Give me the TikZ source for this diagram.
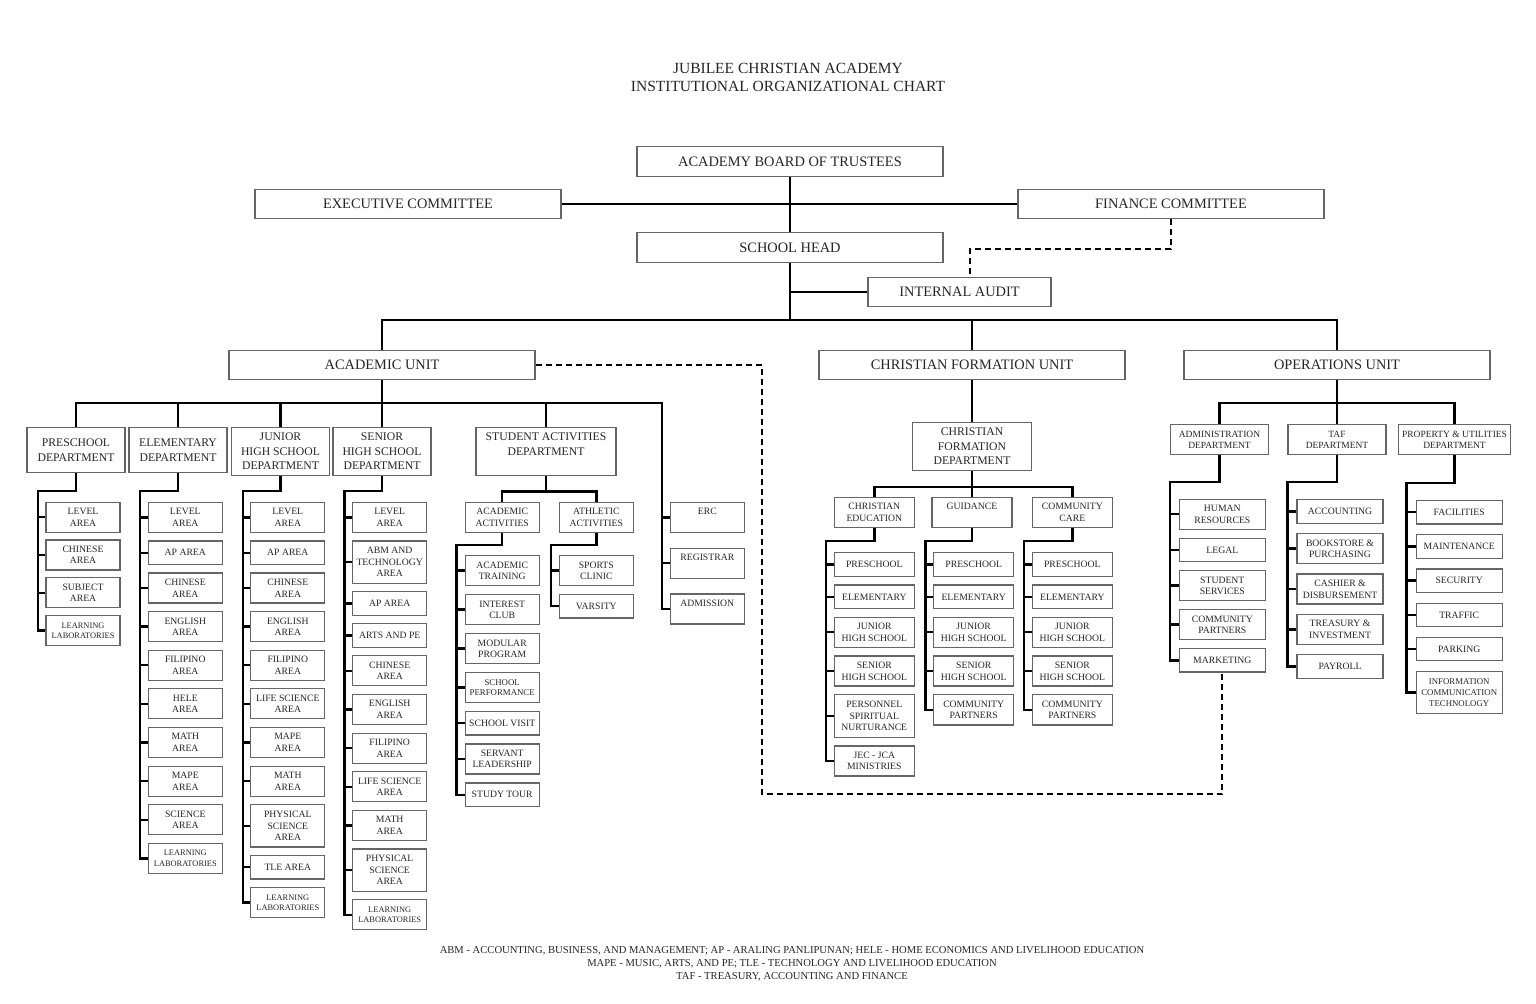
\documentclass[tikz,border=0pt]{standalone}
\usepackage{fontspec}
\setmainfont{Liberation Serif}
\usetikzlibrary{positioning}

\begin{document}
\begin{tikzpicture}[x=0.5pt, y=-0.5pt,
  box/.style={draw=black!60, line width=0.6pt, fill=white, text=black!85, align=center, inner sep=1pt},
  topbox/.style={box, minimum width=153pt, minimum height=14.7pt, font=\fontsize{7.2}{8.6}\selectfont},
  dept/.style={box, minimum width=49pt, font=\fontsize{5.85}{7.25}\selectfont},
  opsdept/.style={minimum height=15.2pt, font=\fontsize{4.75}{5.5}\selectfont},
  leaf/.style={box, minimum width=37pt, font=\fontsize{4.85}{5.75}\selectfont},
  ht1/.style={minimum height=11.7pt},
  ht2/.style={minimum height=15pt},
  ht3/.style={minimum height=21.1pt},
  lab/.style={ht2, font=\fontsize{4.2}{5.2}\selectfont},
  perf/.style={ht2, font=\fontsize{4.4}{5.4}\selectfont},
  ict/.style={ht3, font=\fontsize{4.4}{5.4}\selectfont},
  conn/.style={line width=1.2pt},
  dashline/.style={line width=1pt, dash pattern=on 3pt off 2pt},
]
\useasboundingbox (0,0) rectangle (1536,1004);

% title
\node[font=\fontsize{7.75}{9}\selectfont, align=center, text=black!85] (title) at (788,77) {JUBILEE CHRISTIAN ACADEMY\\INSTITUTIONAL ORGANIZATIONAL CHART};

% top of the chart
\node[topbox] (board) at (790,161.5) {ACADEMY BOARD OF TRUSTEES};
\node[topbox] (exec) at (408,204) {EXECUTIVE COMMITTEE};
\node[topbox] (fin) at (1171,204) {FINANCE COMMITTEE};
\node[topbox] (head) at (790,247.5) {SCHOOL HEAD};
\node[topbox, minimum width=91.5pt] (audit) at (959.5,292) {INTERNAL AUDIT};
\node[topbox] (acad) at (382,365) {ACADEMIC UNIT};
\node[topbox] (cfu) at (972,365) {CHRISTIAN FORMATION UNIT};
\node[topbox] (ops) at (1337,365) {OPERATIONS UNIT};

\coordinate (mbus) at (790,320);
\draw[conn] (board.south) -- (head.north);
\draw[conn] (exec.east) -- (fin.west);
\draw[conn] (head.south) -- (mbus);
\draw[conn] (audit.west) -- (audit.west -| head.south);
\draw[conn] (acad.north) |- (mbus) -| (ops.north);
\draw[conn] (cfu.north) -- (cfu.north |- mbus);
\draw[dashline] (fin.south) -- ++(0,30) -| ([xshift=5.25pt]audit.north);

% academic unit
\node[dept, minimum height=22.7pt] (pre) at (76,450) {PRESCHOOL\\DEPARTMENT};
\node[dept, minimum height=22.7pt] (ele) at (178,450) {ELEMENTARY\\DEPARTMENT};
\node[dept, minimum height=24.2pt] (jhs) at (280.5,451.5) {JUNIOR\\HIGH SCHOOL\\DEPARTMENT};
\node[dept, minimum height=24.2pt] (shs) at (382,451.5) {SENIOR\\HIGH SCHOOL\\DEPARTMENT};
\node[dept, minimum width=70pt, minimum height=24.2pt] (sa) at (546,451.5) {STUDENT ACTIVITIES\\DEPARTMENT\\~};

\coordinate (pre0) at (83,495);
\foreach \lbl/\shp [count=\i, remember=\i as \j (initially 0)] in {LEVEL\\AREA/ht2, CHINESE\\AREA/ht2, SUBJECT\\AREA/ht2, LEARNING\\LABORATORIES/lab}
  \node[leaf,\shp,below=3.3pt of pre\j] (pre\i) {\lbl};
\coordinate (ele0) at (185.3,494.5);
\foreach \lbl/\shp [count=\i, remember=\i as \j (initially 0)] in {LEVEL\\AREA/ht2, AP AREA/ht1, CHINESE\\AREA/ht2, ENGLISH\\AREA/ht2, FILIPINO\\AREA/ht2, HELE\\AREA/ht2, MATH\\AREA/ht2, MAPE\\AREA/ht2, SCIENCE\\AREA/ht2, LEARNING\\LABORATORIES/lab}
  \node[leaf,\shp,below=3.7pt of ele\j] (ele\i) {\lbl};
\coordinate (jhs0) at (287.8,494.5);
\foreach \lbl/\shp [count=\i, remember=\i as \j (initially 0)] in {LEVEL\\AREA/ht2, AP AREA/ht1, CHINESE\\AREA/ht2, ENGLISH\\AREA/ht2, FILIPINO\\AREA/ht2, LIFE SCIENCE\\AREA/ht2, MAPE\\AREA/ht2, MATH\\AREA/ht2, PHYSICAL\\SCIENCE\\AREA/ht3, TLE AREA/ht1, LEARNING\\LABORATORIES/lab}
  \node[leaf,\shp,below=3.7pt of jhs\j] (jhs\i) {\lbl};
\coordinate (shs0) at (389.7,494.5);
\foreach \lbl/\shp [count=\i, remember=\i as \j (initially 0)] in {LEVEL\\AREA/ht2, ABM AND\\TECHNOLOGY\\AREA/ht3, AP AREA/ht1, ARTS AND PE/ht1, CHINESE\\AREA/ht2, ENGLISH\\AREA/ht2, FILIPINO\\AREA/ht2, LIFE SCIENCE\\AREA/ht2, MATH\\AREA/ht2, PHYSICAL\\SCIENCE\\AREA/ht3, LEARNING\\LABORATORIES/lab}
  \node[leaf,\shp,below=3.7pt of shs\j] (shs\i) {\lbl};

\node[leaf, ht2] (aact) at (502.2,517.5) {ACADEMIC\\ACTIVITIES};
\node[leaf, ht2] (athl) at (596.3,517.5) {ATHLETIC\\ACTIVITIES};
\coordinate (aact0) at (502.2,547.2);
\foreach \lbl/\shp [count=\i, remember=\i as \j (initially 0)] in {ACADEMIC\\TRAINING/ht2, INTEREST\\CLUB/ht2, MODULAR\\PROGRAM/ht2, SCHOOL\\PERFORMANCE/perf, SCHOOL VISIT/ht1, SERVANT\\LEADERSHIP/ht2, STUDY TOUR/ht1}
  \node[leaf,\shp,below=3.9pt of aact\j] (aact\i) {\lbl};
\coordinate (athl0) at (596.3,547.2);
\foreach \lbl/\shp [count=\i, remember=\i as \j (initially 0)] in {SPORTS\\CLINIC/ht2, VARSITY/ht1}
  \node[leaf,\shp,below=3.9pt of athl\j] (athl\i) {\lbl};
\coordinate (erc0) at (707.3,487.3);
\foreach \lbl [count=\i, remember=\i as \j (initially 0)] in {ERC\\~, REGISTRAR\\~, ADMISSION\\~}
  \node[leaf,ht2,below=7.3pt of erc\j] (erc\i) {\lbl};

\coordinate (abus) at (382,403);
\coordinate (ercv) at ([xshift=-3.75pt]erc1.west);
\draw[conn] (acad.south) -- (shs.north);
\draw[conn] (pre.north) |- (ercv |- abus) -- (ercv) |- (erc3.west);
\foreach \n in {ele,jhs,sa} \draw[conn] (\n.north) -- (\n.north |- abus);
\foreach \i in {1,2} \draw[conn] ([xshift=-3.75pt]erc\i.west) -- (erc\i.west);

\draw[conn] (pre.south) -- ++(0,18) -| ([xshift=-3.75pt]pre1.west) |- (pre4.west);
\foreach \i in {1,...,3} \draw[conn] ([xshift=-3.75pt]pre\i.west) -- (pre\i.west);
\draw[conn] (ele.south) -- ++(0,18) -| ([xshift=-3.75pt]ele1.west) |- (ele10.west);
\foreach \i in {1,...,9} \draw[conn] ([xshift=-3.75pt]ele\i.west) -- (ele\i.west);
\draw[conn] (jhs.south) -- ++(0,15) -| ([xshift=-3.75pt]jhs1.west) |- (jhs11.west);
\foreach \i in {1,...,10} \draw[conn] ([xshift=-3.75pt]jhs\i.west) -- (jhs\i.west);
\draw[conn] (shs.south) -- ++(0,15) -| ([xshift=-3.75pt]shs1.west) |- (shs11.west);
\foreach \i in {1,...,10} \draw[conn] ([xshift=-3.75pt]shs\i.west) -- (shs\i.west);

\coordinate (sabus) at (546,491.7);
\draw[conn] (sa.south) -- (sabus);
\draw[conn] (aact.north) |- (sabus) -| (athl.north);
\draw[conn] (aact.south) -- ++(0,12) -| ([xshift=-4pt]aact1.west) |- (aact7.west);
\foreach \i in {1,...,6} \draw[conn] ([xshift=-4pt]aact\i.west) -- (aact\i.west);
\draw[conn] (athl.south) -- ++(0,12) -| ([xshift=-4pt]athl1.west) |- (athl2.west);
\draw[conn] ([xshift=-4pt]athl1.west) -- (athl1.west);

% christian formation unit
\node[dept, minimum width=59.5pt, minimum height=24.2pt] (cfd) at (972,446.5) {CHRISTIAN\\FORMATION\\DEPARTMENT};
\node[leaf, ht2, minimum width=40pt] (ce) at (874.3,512.5) {CHRISTIAN\\EDUCATION};
\node[leaf, ht2, minimum width=40pt] (guid) at (972,512.5) {GUIDANCE\\~};
\node[leaf, ht2, minimum width=40pt] (cc) at (1072.3,512.5) {COMMUNITY\\CARE};

\coordinate (ce0) at (874.3,544.7);
\foreach \lbl/\shp [count=\i, remember=\i as \j (initially 0)] in {PRESCHOOL/ht1, ELEMENTARY/ht1, JUNIOR\\HIGH SCHOOL/ht2, SENIOR\\HIGH SCHOOL/ht2, PERSONNEL\\SPIRITUAL\\NURTURANCE/ht3, JEC - JCA\\MINISTRIES/ht2}
  \node[leaf,minimum width=40pt,\shp,below=3.8pt of ce\j] (ce\i) {\lbl};
\coordinate (guid0) at (973.7,544.7);
\foreach \lbl/\shp [count=\i, remember=\i as \j (initially 0)] in {PRESCHOOL/ht1, ELEMENTARY/ht1, JUNIOR\\HIGH SCHOOL/ht2, SENIOR\\HIGH SCHOOL/ht2, COMMUNITY\\PARTNERS/ht2}
  \node[leaf,minimum width=40pt,\shp,below=3.8pt of guid\j] (guid\i) {\lbl};
\coordinate (cc0) at (1072.3,544.7);
\foreach \lbl/\shp [count=\i, remember=\i as \j (initially 0)] in {PRESCHOOL/ht1, ELEMENTARY/ht1, JUNIOR\\HIGH SCHOOL/ht2, SENIOR\\HIGH SCHOOL/ht2, COMMUNITY\\PARTNERS/ht2}
  \node[leaf,minimum width=40pt,\shp,below=3.8pt of cc\j] (cc\i) {\lbl};

\coordinate (cfbus) at (972,487.3);
\draw[conn] (cfu.south) -- (cfd.north);
\draw[conn] (cfd.south) -- (guid.north);
\draw[conn] (ce.north) |- (cfbus) -| (cc.north);
\draw[conn] (ce.south) -- ++(0,12.7) -| ([xshift=-3.75pt]ce1.west) |- (ce6.west);
\foreach \i in {1,...,5} \draw[conn] ([xshift=-3.75pt]ce\i.west) -- (ce\i.west);
\draw[conn] (guid.south) -- ++(0,12.7) -| ([xshift=-3.75pt]guid1.west) |- (guid5.west);
\foreach \i in {1,...,4} \draw[conn] ([xshift=-3.75pt]guid\i.west) -- (guid\i.west);
\draw[conn] (cc.south) -- ++(0,12.7) -| ([xshift=-3.75pt]cc1.west) |- (cc5.west);
\foreach \i in {1,...,4} \draw[conn] ([xshift=-3.75pt]cc\i.west) -- (cc\i.west);

% operations unit
\node[dept, opsdept] (adm) at (1219.5,439.5) {ADMINISTRATION\\DEPARTMENT};
\node[dept, opsdept] (taf) at (1337,439.5) {TAF\\DEPARTMENT};
\node[dept, opsdept, minimum width=56pt] (pu) at (1454.5,439.5) {PROPERTY \& UTILITIES\\DEPARTMENT};

\coordinate (adm0) at (1222.3,490.9);
\foreach \lbl/\shp [count=\i, remember=\i as \j (initially 0)] in {HUMAN\\RESOURCES/ht2, LEGAL/ht1, STUDENT\\SERVICES/ht2, COMMUNITY\\PARTNERS/ht2, MARKETING/ht1}
  \node[leaf,minimum width=43pt,\shp,below=3.9pt of adm\j] (adm\i) {\lbl};
\coordinate (taf0) at (1340,490.1);
\foreach \lbl/\shp [count=\i, remember=\i as \j (initially 0)] in {ACCOUNTING/ht1, BOOKSTORE \&\\PURCHASING/ht2, CASHIER \&\\DISBURSEMENT/ht2, TREASURY \&\\INVESTMENT/ht2, PAYROLL/ht1}
  \node[leaf,minimum width=43pt,\shp,below=4.6pt of taf\j] (taf\i) {\lbl};
\coordinate (pu0) at (1459.2,490.4);
\foreach \lbl/\shp [count=\i, remember=\i as \j (initially 0)] in {FACILITIES/ht1, MAINTENANCE/ht1, SECURITY/ht1, TRAFFIC/ht1, PARKING/ht1, INFORMATION\\COMMUNICATION\\TECHNOLOGY/ict}
  \node[leaf,minimum width=43pt,\shp,below=4.8pt of pu\j] (pu\i) {\lbl};

\coordinate (obus) at (1337,403);
\draw[conn] (ops.south) -- (taf.north);
\draw[conn] (adm.north) |- (obus) -| (pu.north);
\draw[conn] (adm.south) -- ++(0,27) -| ([xshift=-4.3pt]adm1.west) |- (adm5.west);
\foreach \i in {1,...,4} \draw[conn] ([xshift=-4.3pt]adm\i.west) -- (adm\i.west);
\draw[conn] (taf.south) -- ++(0,27) -| ([xshift=-4.5pt]taf1.west) |- (taf5.west);
\foreach \i in {1,...,4} \draw[conn] ([xshift=-4.5pt]taf\i.west) -- (taf\i.west);
\draw[conn] (pu.south) -- ++(0,28) -| ([xshift=-4.5pt]pu1.west) |- (pu6.west);
\foreach \i in {1,...,5} \draw[conn] ([xshift=-4.5pt]pu\i.west) -- (pu\i.west);

% dotted link academic unit to marketing
\coordinate (dlow) at (762,794);
\draw[dashline] (acad.east) -| (dlow) -| (adm5.south);

% abbreviations
\node[font=\fontsize{5.3}{6.5}\selectfont, align=center, text=black!85] (note) at (792,964) {ABM - ACCOUNTING, BUSINESS, AND MANAGEMENT; AP - ARALING PANLIPUNAN; HELE - HOME ECONOMICS AND LIVELIHOOD EDUCATION\\MAPE - MUSIC, ARTS, AND PE; TLE - TECHNOLOGY AND LIVELIHOOD EDUCATION\\TAF - TREASURY, ACCOUNTING AND FINANCE};
\end{tikzpicture}
\end{document}
